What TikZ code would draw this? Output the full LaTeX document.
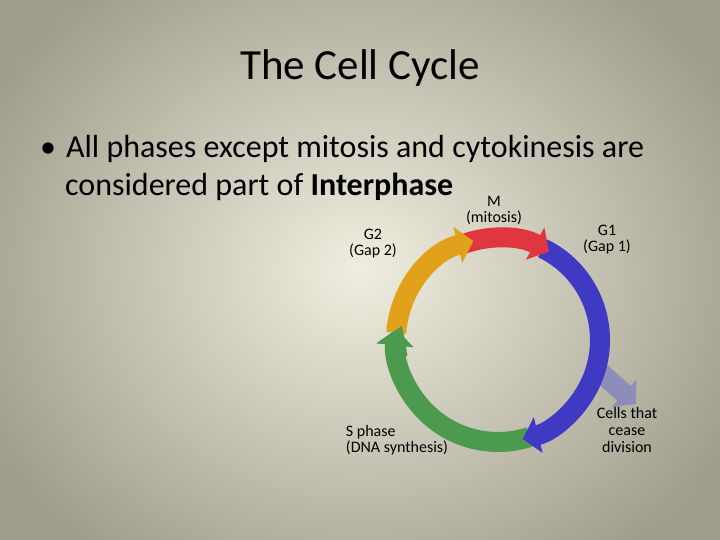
\documentclass[tikz,border=0pt]{standalone}
\usepackage{fontspec}
\setmainfont{Carlito}
\usetikzlibrary{arrows.meta}
\definecolor{cred}{HTML}{E0363F}
\definecolor{cblue}{HTML}{3F39C4}
\definecolor{cgreen}{HTML}{4C9A4E}
\definecolor{corange}{HTML}{E2A11A}
\definecolor{cgray}{HTML}{8E8CB8}
\tikzset{seg/.style={line width=20pt,-{Triangle[width=36pt,length=16pt]}},
lab/.style={font=\fontsize{14}{15}\selectfont,align=center,inner sep=0pt}}
\begin{document}
\begin{tikzpicture}[x=1pt,y=1pt]
\useasboundingbox (0,0) rectangle (720,540);
\begin{scope}
\clip (0,0) rectangle (720,540);
\shade[inner color={rgb,255:red,240;green,238;blue,224},outer color={rgb,255:red,160;green,157;blue,140}] (-60,-90) rectangle (780,630);
\end{scope}
\node (title) at (360,472) {\fontsize{43}{46}\selectfont The Cell Cycle};
\node[anchor=north west,align=left,inner sep=0pt,font=\fontsize{32}{38}\selectfont] (bul) at (40,405) {•\hspace{10pt}All phases except mitosis and cytokinesis are\\\hspace{25pt}considered part of \textbf{Interphase}};
\coordinate (c) at (498,200);
\draw[seg,cgray] (600,168) -- (636,136);
\draw[seg,cgreen] ([shift={(-72:102)}]c) arc (-72:-186:102);
\draw[seg,cblue] ([shift={(64:102)}]c) arc (64:-76:102);
\draw[seg,cred] ([shift={(112:102)}]c) arc (112:60:102);
\draw[seg,corange] ([shift={(176:102)}]c) arc (176:104:102);
\draw[seg,cgreen] ([shift={(-170:102)}]c) arc (-170:-186:102);
\node[lab,font=\fontsize{16}{16}\selectfont] (m) at (494,330) {M\\(mitosis)};
\node[lab,font=\fontsize{16}{16}\selectfont] (g1) at (607,300) {G1\\(Gap 1)};
\node[lab,font=\fontsize{16}{16}\selectfont] (g2) at (373,296) {G2\\(Gap 2)};
\node[lab,align=left,font=\fontsize{16}{16}\selectfont] (s) at (397,100) {S phase\\(DNA synthesis)};
\node[lab,font=\fontsize{16}{17}\selectfont] (cells) at (627,110) {Cells that\\cease\\division};
\end{tikzpicture}
\end{document}
